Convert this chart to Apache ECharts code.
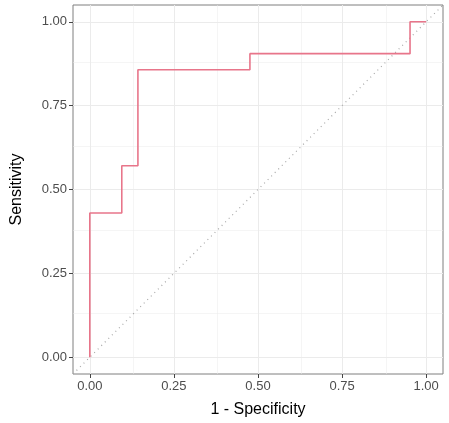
<!DOCTYPE html><html><head><meta charset="utf-8">
<script src="https://cdn.jsdelivr.net/npm/echarts@6/dist/echarts.min.js"></script>
<style>html,body{margin:0;background:#fff}#c{width:449px;height:423px}</style></head><body><div id="c"></div>
<script>
const fpr = [0, 0, 0.095, 0.095, 0.143, 0.143, 0.476, 0.476, 0.952, 0.952, 1];
const tpr = [0, 0.43, 0.43, 0.571, 0.571, 0.857, 0.857, 0.905, 0.905, 1, 1];
const majorTicks = [0, 0.25, 0.5, 0.75, 1];
const minorTicks = [0.125, 0.375, 0.625, 0.875];
const tickLabels = ['0.00', '0.25', '0.50', '0.75', '1.00'];
const gridLines = [];
minorTicks.forEach(v => { gridLines.push({xAxis: v, lineStyle:{width:0.5}}); gridLines.push({yAxis: v, lineStyle:{width:0.5}}); });
majorTicks.forEach(v => { gridLines.push({xAxis: v, lineStyle:{width:1}}); gridLines.push({yAxis: v, lineStyle:{width:1}}); });
const ax = (name, gap) => ({
  type:'value', min:-0.05, max:1.05, name, nameLocation:'middle', nameGap:gap,
  nameTextStyle:{color:'#000', fontSize:16, fontFamily:'Liberation Sans'},
  axisLine:{show:false, onZero:false}, splitLine:{show:false},
  axisTick:{show:true, length:4, lineStyle:{color:'#444'}, customValues:majorTicks},
  axisLabel:{color:'#4d4d4d', fontSize:13, fontFamily:'Liberation Sans', margin:6,
    customValues:majorTicks, formatter:v => tickLabels[majorTicks.indexOf(Math.round(v*100)/100)] ?? ''}
});
const chart = echarts.init(document.getElementById('c'));
chart.setOption({
  animation:false,
  grid:{left:73, right:6, top:5, bottom:48, show:true, borderColor:'#7f7f7f', borderWidth:1},
  xAxis: ax('1 - Specificity', 28),
  yAxis: ax('Sensitivity', 48),
  series:[
    {type:'line', data:[], silent:true, z:1,
     markLine:{symbol:'none', silent:true, z:1, label:{show:false}, lineStyle:{color:'#ebebeb', type:'solid'}, data:gridLines}},
    {type:'line', data:[[-0.05,-0.05],[1.05,1.05]], showSymbol:false, z:5,
     lineStyle:{color:'#a8a8a8', type:[1,4], width:1.2}},
    {type:'line', data:fpr.map((x,i)=>[x,tpr[i]]), showSymbol:false, z:10,
     lineStyle:{color:'#e8758a', width:1.6}}
  ]
});
</script></body></html>
